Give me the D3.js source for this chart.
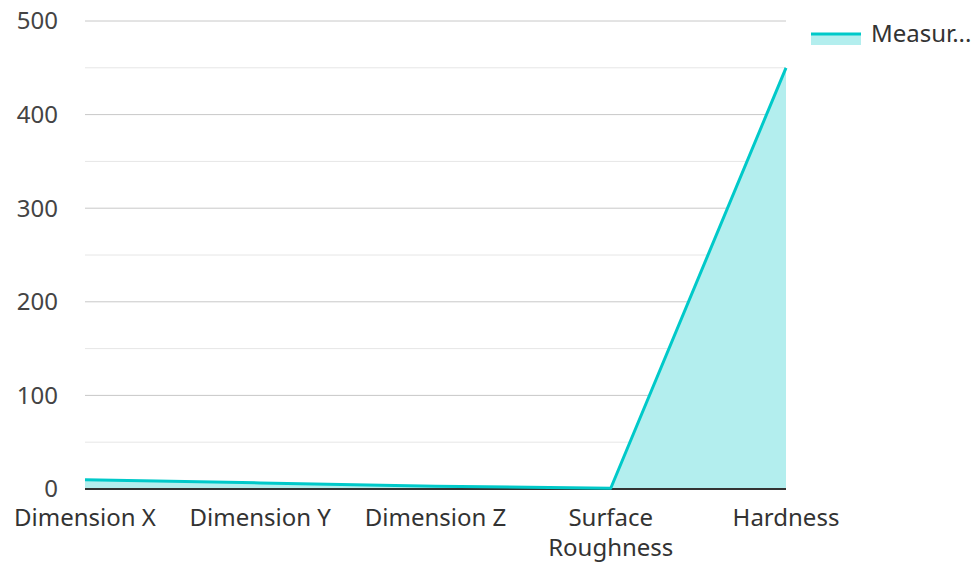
<!DOCTYPE html>
<html>
<head>
<meta charset="utf-8">
<script src="https://cdn.jsdelivr.net/npm/d3@7"></script>
<style>
  html, body { margin: 0; padding: 0; background: #fff; }
  svg { display: block; font-family: "Noto Sans", "Open Sans", sans-serif; }
</style>
</head>
<body>
<svg id="chart" width="976" height="562"></svg>
<script>
// Measured properties per category
const categories = ["Dimension X", "Dimension Y", "Dimension Z", "Surface Roughness", "Hardness"];
const measured = [10, 6.5, 3, 0.8, 450];
const yTicks = [0, 100, 200, 300, 400, 500];
const yMinorTicks = [50, 150, 250, 350, 450];
const seriesName = "Measured Value";

const svg = d3.select("#chart");
const plotLeft = 85, plotRight = 786, plotTop = 21, plotBottom = 489;
const lineColor = "#00c9c9";
const fillColor = "#b3eeee";
const fontSize = 24;

const x = d3.scalePoint().domain(categories).range([plotLeft, plotRight]).padding(0);
const y = d3.scaleLinear().domain([0, 500]).range([plotBottom, plotTop]);

// Gridlines
svg.append("g").selectAll("line").data(yMinorTicks).join("line")
  .attr("x1", plotLeft).attr("x2", plotRight)
  .attr("y1", d => y(d)).attr("y2", d => y(d))
  .attr("stroke", "#e6e6e6").attr("stroke-width", 1);
svg.append("g").selectAll("line").data(yTicks.filter(d => d > 0)).join("line")
  .attr("x1", plotLeft).attr("x2", plotRight)
  .attr("y1", d => y(d)).attr("y2", d => y(d))
  .attr("stroke", "#c8c8c8").attr("stroke-width", 1);

// Y axis labels
svg.append("g").selectAll("text").data(yTicks).join("text")
  .attr("x", 58).attr("y", d => y(d))
  .attr("dy", "0.35em")
  .attr("text-anchor", "end")
  .attr("font-size", fontSize)
  .attr("fill", "#444")
  .text(d => d);

// Area and line
const pts = categories.map((c, i) => ({ c, v: measured[i] }));
svg.append("path").datum(pts)
  .attr("fill", fillColor)
  .attr("d", d3.area().x(d => x(d.c)).y0(y(0)).y1(d => y(d.v)));

// Baseline
svg.append("line")
  .attr("x1", plotLeft).attr("x2", plotRight)
  .attr("y1", y(0)).attr("y2", y(0))
  .attr("stroke", "#333").attr("stroke-width", 2);

svg.append("path").datum(pts)
  .attr("fill", "none")
  .attr("stroke", lineColor)
  .attr("stroke-width", 3)
  .attr("stroke-linejoin", "round")
  .attr("d", d3.line().x(d => x(d.c)).y(d => y(d.v)));

// X axis labels, wrapped onto two lines where needed
const xl = svg.append("g").selectAll("text").data(categories).join("text")
  .attr("x", d => x(d))
  .attr("y", 526)
  .attr("text-anchor", "middle")
  .attr("font-size", fontSize)
  .attr("fill", "#333");
xl.each(function(d) {
  const t = d3.select(this);
  const words = d === "Surface Roughness" ? ["Surface", "Roughness"] : [d];
  words.forEach((w, i) => {
    t.append("tspan").attr("x", x(d)).attr("dy", i === 0 ? 0 : 30).text(w);
  });
});

// Legend
const lg = svg.append("g");
lg.append("rect").attr("x", 811).attr("y", 33).attr("width", 50).attr("height", 12).attr("fill", fillColor);
lg.append("line").attr("x1", 811).attr("x2", 861).attr("y1", 34).attr("y2", 34)
  .attr("stroke", lineColor).attr("stroke-width", 3);
lg.append("text").attr("x", 871).attr("y", 42)
  .attr("font-size", fontSize).attr("fill", "#333")
  .text(seriesName.slice(0, 6) + "...");
</script>
</body>
</html>
